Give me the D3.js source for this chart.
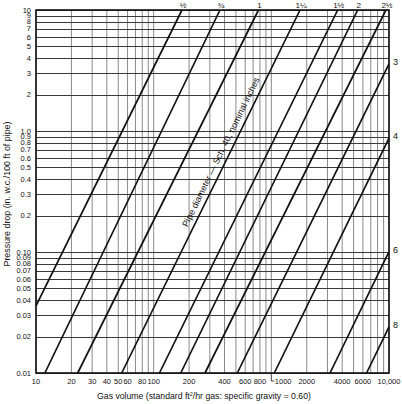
<!DOCTYPE html>
<html><head><meta charset="utf-8">
<script src="https://cdn.jsdelivr.net/npm/d3@7"></script>
<style>
html,body{margin:0;padding:0;background:#fff;}
text{font-family:"Liberation Sans",Arial,Helvetica,sans-serif;fill:#111;}
</style></head>
<body>
<svg id="chart" width="402" height="404"></svg>
<script>
// ---- data ----
const pipeSizes = ["½","¾","1","1¼","1½","2","2½","3","4","6","8"];
// start point of each line (gas volume, pressure drop)
const flowStart = [10, 11.9, 22.6, 53.5, 112, 170, 273, 514, 1060, 3155, 6450];
const dropStart = [0.0358, 0.01, 0.01, 0.01, 0.01, 0.01, 0.01, 0.01, 0.01, 0.01, 0.01];
// end point of each line
const flowEnd = [174, 366, 778, 1754, 3664, 5420, 9420, 10000, 10000, 10000, 10000];
const dropEnd = [10, 10, 10, 10, 10, 10, 10, 3.58, 0.875, 0.1006, 0.024];

const xTickValues = [10,20,30,40,50,60,80,100,200,400,600,800,1000,2000,4000,6000,10000];
const xTickLabels = ["10","20","30","40","50","60","80","100","200","400","600","800","1000","2000","4000","6000","10,000"];
const yTickValues = [10,9,8,7,6,5,4,3,2,1,0.9,0.8,0.7,0.6,0.5,0.4,0.3,0.2,0.1,0.09,0.08,0.07,0.06,0.05,0.04,0.03,0.02,0.01];
const yTickLabels = ["10","9","8","7","6","5","4","3","2","1.0","0.9","0.8","0.7","0.6","0.5","0.4","0.3","0.2","0.10","0.09","0.08","0.07","0.06","0.05","0.04","0.03","0.02","0.01"];
const xGridDecades = [10,100,1000];
const yGridDecades = [0.01,0.1,1];
const multipliers = [1,2,3,4,5,6,7,8,9];

const xTitle = "Gas volume (standard ft";
const xTitleSup = "2";
const xTitleEnd = "/hr gas: specific gravity = 0.60)";
const yTitle = "Pressure drop (in. w.c./100 ft of pipe)";
const noteText = "Pipe diameter — Sch. 40, nominal inches";
const noteAt = [373, 0.67];

// ---- layout ----
const L = 36, R = 389, T = 10, B = 373;
const svg = d3.select("#chart");
const x = d3.scaleLog().domain([10, 10000]).range([L, R]);
const y = d3.scaleLog().domain([0.01, 10]).range([B, T]);

const xGrid = [];
xGridDecades.forEach(d => multipliers.forEach(m => xGrid.push(d*m)));
xGrid.push(10000);
const yGrid = [];
yGridDecades.forEach(d => multipliers.forEach(m => yGrid.push(d*m)));
yGrid.push(10);

// vertical grid
svg.append("g").selectAll("line").data(xGrid).join("line")
  .attr("x1", d => x(d)).attr("x2", d => x(d))
  .attr("y1", T).attr("y2", B)
  .attr("stroke", "#8a8a8a").attr("stroke-width", 1);
// horizontal grid
svg.append("g").selectAll("line").data(yGrid).join("line")
  .attr("x1", L).attr("x2", R)
  .attr("y1", d => Math.round(y(d)) + 0.5).attr("y2", d => Math.round(y(d)) + 0.5)
  .attr("stroke", "#3a3a3a").attr("stroke-width", 1);

// border
svg.append("rect").attr("x", L).attr("y", T).attr("width", R - L).attr("height", B - T)
  .attr("fill", "none").attr("stroke", "#111").attr("stroke-width", 1.6);

// pipe lines
const pipes = pipeSizes.map((s, i) => ({size: s, q0: flowStart[i], p0: dropStart[i], q1: flowEnd[i], p1: dropEnd[i]}));
svg.append("g").selectAll("line").data(pipes).join("line")
  .attr("x1", d => x(d.q0)).attr("y1", d => y(d.p0))
  .attr("x2", d => x(d.q1)).attr("y2", d => y(d.p1))
  .attr("stroke", "#111").attr("stroke-width", 1.7);

// pipe labels
svg.append("g").selectAll("text").data(pipes).join("text")
  .attr("x", d => d.p1 >= 10 ? x(d.q1) + 1 : R + 4)
  .attr("y", d => d.p1 >= 10 ? T - 2 : y(d.p1) + 1)
  .attr("text-anchor", d => d.p1 >= 10 ? "middle" : "start")
  .attr("font-size", d => d.p1 >= 10 ? 8 : 9)
  .text(d => d.size);

// y tick labels
svg.append("g").selectAll("text").data(yTickValues).join("text")
  .attr("x", L - 5).attr("y", d => y(d) + 2.7)
  .attr("text-anchor", "end").attr("font-size", 7.5)
  .text((d, i) => yTickLabels[i]);

// x tick labels
svg.append("g").selectAll("text").data(xTickValues).join("text")
  .attr("x", d => d === 1000 ? x(d) + 3.5 : x(d))
  .attr("y", B + 11)
  .attr("text-anchor", d => d === 1000 ? "start" : "middle")
  .attr("font-size", 7.5)
  .text((d, i) => xTickLabels[i]);
// leader for 1000
svg.append("path")
  .attr("d", `M${x(1000)},${B+1}V${B+8}H${x(1000)+3}`)
  .attr("fill", "none").attr("stroke", "#111").attr("stroke-width", 0.8);

// axis titles
const xt = svg.append("text").attr("x", 204).attr("y", 399)
  .attr("text-anchor", "middle").attr("font-size", 8.7);
xt.append("tspan").text(xTitle);
xt.append("tspan").attr("dy", -3.5).attr("font-size", 5.5).text(xTitleSup);
xt.append("tspan").attr("dy", 3.5).text(xTitleEnd);

svg.append("text").attr("transform", `translate(10,194) rotate(-90)`)
  .attr("text-anchor", "middle").attr("font-size", 8.9).text(yTitle);

// annotation
svg.append("text")
  .attr("transform", `translate(${x(noteAt[0])},${y(noteAt[1])}) rotate(-64)`)
  .attr("text-anchor", "middle").attr("dy", 3).attr("font-size", 9)
  .text(noteText);
</script>
</body></html>
